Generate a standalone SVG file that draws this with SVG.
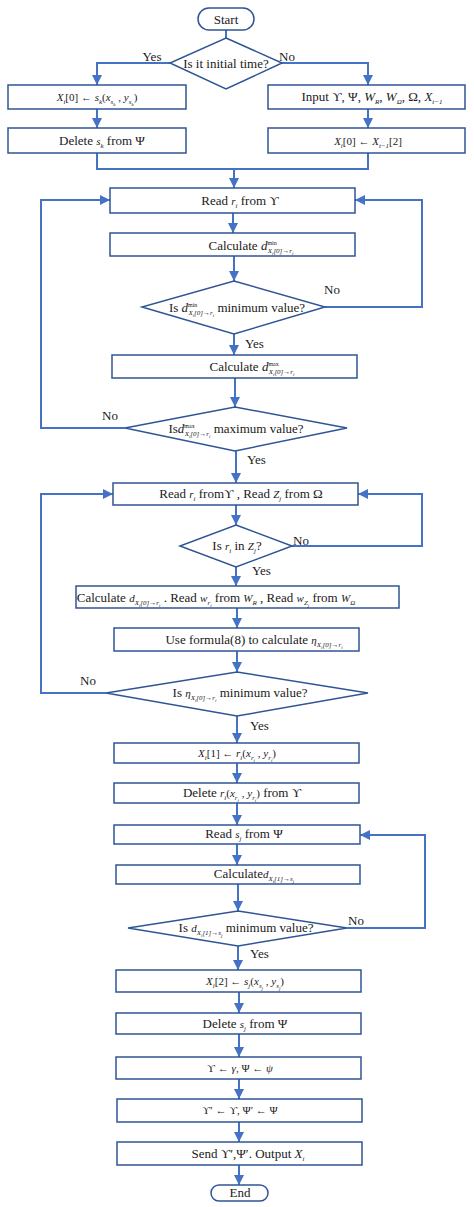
<svg xmlns="http://www.w3.org/2000/svg" width="474" height="1207" viewBox="0 0 474 1207">
<style>
.bx{fill:#fff;stroke:#2F5597;stroke-width:1.5}
.cn{fill:none;stroke:#4472C4;stroke-width:2}
.t{font-family:"Liberation Serif","Times New Roman",serif;font-size:13px;fill:#1a1a1a;text-anchor:middle}
.l{font-family:"Liberation Serif","Times New Roman",serif;font-size:13px;fill:#1a1a1a}
.f{font-size:11px}
.i{font-style:italic}
.s{font-size:7px;font-style:italic;baseline-shift:-3px}
.p{font-size:6px;baseline-shift:5px}
.ss{font-size:5px;baseline-shift:-1.5px}
</style>
<defs>
<marker id="ah" viewBox="0 0 10 10" refX="10" refY="5" markerWidth="11" markerHeight="10" markerUnits="userSpaceOnUse" orient="auto">
<path d="M0,0 L10,5 L0,10 z" fill="#4472C4"/>
</marker>
</defs>
<rect width="474" height="1207" fill="#fff"/>

<g id="connectors">
<path class="cn" d="M226,30 V38"/>
<path class="cn" d="M170,63 H97 V85" marker-end="url(#ah)"/>
<path class="cn" d="M282,63 H368 V85" marker-end="url(#ah)"/>
<path class="cn" d="M97,109 V128" marker-end="url(#ah)"/>
<path class="cn" d="M368,109 V128" marker-end="url(#ah)"/>
<path class="cn" d="M97,153 V169 H368 V153"/>
<path class="cn" d="M234,169 V188" marker-end="url(#ah)"/>
<path class="cn" d="M233,213 V233" marker-end="url(#ah)"/>
<path class="cn" d="M234,256 V281" marker-end="url(#ah)"/>
<path class="cn" d="M325,307 H422 V200 H355" marker-end="url(#ah)"/>
<path class="cn" d="M234,334 V355" marker-end="url(#ah)"/>
<path class="cn" d="M235,378 V407" marker-end="url(#ah)"/>
<path class="cn" d="M125,428 H41 V200 H110" marker-end="url(#ah)"/>
<path class="cn" d="M236,451 V483" marker-end="url(#ah)"/>
<path class="cn" d="M236,505 V525" marker-end="url(#ah)"/>
<path class="cn" d="M292,546 H422 V494 H358" marker-end="url(#ah)"/>
<path class="cn" d="M236,567 V586" marker-end="url(#ah)"/>
<path class="cn" d="M237,608 V628" marker-end="url(#ah)"/>
<path class="cn" d="M237,651 V672" marker-end="url(#ah)"/>
<path class="cn" d="M106,693 H41 V494 H113" marker-end="url(#ah)"/>
<path class="cn" d="M237,716 V743" marker-end="url(#ah)"/>
<path class="cn" d="M237,763 V783" marker-end="url(#ah)"/>
<path class="cn" d="M237,803 V825" marker-end="url(#ah)"/>
<path class="cn" d="M237,844 V865" marker-end="url(#ah)"/>
<path class="cn" d="M238,884 V911" marker-end="url(#ah)"/>
<path class="cn" d="M347,928 H425 V835 H360" marker-end="url(#ah)"/>
<path class="cn" d="M238,946 V970" marker-end="url(#ah)"/>
<path class="cn" d="M239,992 V1013" marker-end="url(#ah)"/>
<path class="cn" d="M239,1034 V1057" marker-end="url(#ah)"/>
<path class="cn" d="M239,1079 V1099" marker-end="url(#ah)"/>
<path class="cn" d="M239,1122 V1142" marker-end="url(#ah)"/>
<path class="cn" d="M239,1165 V1185" marker-end="url(#ah)"/>
</g>

<g id="labels">
<text class="t" x="152" y="61">Yes</text>
<text class="t" x="287" y="61">No</text>
<text class="t" x="332" y="294">No</text>
<text class="l" x="245" y="348">Yes</text>
<text class="t" x="110" y="420">No</text>
<text class="l" x="247" y="464">Yes</text>
<text class="l" x="293" y="545">No</text>
<text class="l" x="252" y="575">Yes</text>
<text class="l" x="80" y="685">No</text>
<text class="l" x="250" y="730">Yes</text>
<text class="l" x="348" y="925">No</text>
<text class="l" x="250" y="958">Yes</text>
</g>

<g id="start"><rect class="bx" x="198" y="8" width="56" height="22" rx="11"/><text class="t" x="226" y="24">Start</text></g>

<g id="d1"><polygon class="bx" points="226,38 282,63 226,89 170,63"/><text class="t" x="226" y="68">Is it initial time?</text></g>

<g id="b1"><rect class="bx" x="8" y="85" width="178" height="24"/>
<text class="t f" x="97" y="101"><tspan class="i">X</tspan><tspan class="s">i</tspan>[0] ← <tspan class="i">s</tspan><tspan class="s">k</tspan>(<tspan class="i">x</tspan><tspan class="s">s<tspan class="ss">k</tspan></tspan> , <tspan class="i">y</tspan><tspan class="s">s<tspan class="ss">k</tspan></tspan>)</text></g>

<g id="b2"><rect class="bx" x="8" y="128" width="178" height="25"/>
<text class="t" x="102" y="145">Delete <tspan class="i f">s</tspan><tspan class="s">k</tspan>  from Ψ</text></g>

<g id="b3"><rect class="bx" x="268" y="85" width="197" height="24"/>
<text class="t" x="372" y="101">Input  ϒ, Ψ, <tspan class="i">W</tspan><tspan class="s">R</tspan>, <tspan class="i">W</tspan><tspan class="s">Ω</tspan>, Ω, <tspan class="i">X</tspan><tspan class="s">t−1</tspan></text></g>

<g id="b4"><rect class="bx" x="268" y="128" width="197" height="25"/>
<text class="t f" x="368" y="145"><tspan class="i">X</tspan><tspan class="s">i</tspan>[0] ← <tspan class="i">X</tspan><tspan class="s">t−1</tspan>[2]</text></g>

<g id="b5"><rect class="bx" x="110" y="188" width="245" height="25"/>
<text class="t" x="240" y="205">Read <tspan class="i f">r</tspan><tspan class="s">i</tspan>  from  ϒ</text></g>

<g id="b6"><rect class="bx" x="110" y="233" width="245" height="23"/>
<text class="t" x="251" y="250">Calculate <tspan class="i">d</tspan><tspan class="p">min</tspan><tspan class="s" dx="-9">X<tspan class="ss">i</tspan>[0]→r<tspan class="ss">i</tspan></tspan></text></g>

<g id="d2"><polygon class="bx" points="234,281 325,307 234,334 142,307"/>
<text class="t" x="237" y="312">Is  <tspan class="i">d</tspan><tspan class="p">min</tspan><tspan class="s" dx="-9">X<tspan class="ss">i</tspan>[0]→r<tspan class="ss">i</tspan></tspan> minimum value?</text></g>

<g id="b7"><rect class="bx" x="112" y="355" width="245" height="23"/>
<text class="t" x="252" y="371">Calculate <tspan class="i">d</tspan><tspan class="p">max</tspan><tspan class="s" dx="-10">X<tspan class="ss">i</tspan>[0]→r<tspan class="ss">i</tspan></tspan></text></g>

<g id="d3"><polygon class="bx" points="235,407 347,428 235,451 125,428"/>
<text class="t" x="236" y="433">Is<tspan class="i">d</tspan><tspan class="p">max</tspan><tspan class="s" dx="-10">X<tspan class="ss">i</tspan>[0]→r<tspan class="ss">i</tspan></tspan> maximum value?</text></g>

<g id="b8"><rect class="bx" x="113" y="483" width="245" height="22"/>
<text class="t" x="241" y="498">Read <tspan class="i f">r</tspan><tspan class="s">i</tspan>  fromϒ  , Read <tspan class="i f">Z</tspan><tspan class="s">j</tspan>  from Ω</text></g>

<g id="d4"><polygon class="bx" points="236,525 292,546 236,567 180,546"/>
<text class="t" x="237" y="550">Is <tspan class="i f">r</tspan><tspan class="s">i</tspan>  in <tspan class="i f">Z</tspan><tspan class="s">j</tspan>?</text></g>

<g id="b9"><rect class="bx" x="76" y="586" width="323" height="22"/>
<text class="t" x="216" y="602">Calculate <tspan class="i f">d</tspan><tspan class="s">X<tspan class="ss">i</tspan>[0]→r<tspan class="ss">i</tspan></tspan> . Read  <tspan class="i f">w</tspan><tspan class="s">r<tspan class="ss">i</tspan></tspan>  from <tspan class="i f">W</tspan><tspan class="s">R</tspan> , Read <tspan class="i f">w</tspan><tspan class="s">Z<tspan class="ss">j</tspan></tspan>  from <tspan class="i f">W</tspan><tspan class="s">Ω</tspan></text></g>

<g id="b10"><rect class="bx" x="114" y="628" width="245" height="23"/>
<text class="t" x="254" y="644">Use formula(8) to calculate  <tspan class="i f">η</tspan><tspan class="s">X<tspan class="ss">i</tspan>[0]→r<tspan class="ss">i</tspan></tspan></text></g>

<g id="d5"><polygon class="bx" points="237,672 368,693 237,716 106,693"/>
<text class="t" x="240" y="697">Is  <tspan class="i f">η</tspan><tspan class="s">X<tspan class="ss">i</tspan>[0]→r<tspan class="ss">i</tspan></tspan>   minimum value?</text></g>

<g id="b11"><rect class="bx" x="114" y="743" width="245" height="20"/>
<text class="t f" x="237" y="757"><tspan class="i">X</tspan><tspan class="s">i</tspan>[1] ← <tspan class="i">r</tspan><tspan class="s">i</tspan>(<tspan class="i">x</tspan><tspan class="s">r<tspan class="ss">i</tspan></tspan> , <tspan class="i">y</tspan><tspan class="s">r<tspan class="ss">i</tspan></tspan>)</text></g>

<g id="b12"><rect class="bx" x="114" y="783" width="245" height="20"/>
<text class="t" x="242" y="797">Delete <tspan class="i f">r</tspan><tspan class="s">i</tspan><tspan class="f">(</tspan><tspan class="i f">x</tspan><tspan class="s">r<tspan class="ss">i</tspan></tspan><tspan class="f"> , </tspan><tspan class="i f">y</tspan><tspan class="s">r<tspan class="ss">i</tspan></tspan><tspan class="f">)</tspan>  from ϒ</text></g>

<g id="b13"><rect class="bx" x="114" y="825" width="246" height="19"/>
<text class="t" x="244" y="838">Read <tspan class="i f">s</tspan><tspan class="s">j</tspan>  from  Ψ</text></g>

<g id="b14"><rect class="bx" x="116" y="865" width="244" height="19"/>
<text class="t" x="254" y="878">Calculate<tspan class="i f">d</tspan><tspan class="s">X<tspan class="ss">i</tspan>[1]→s<tspan class="ss">j</tspan></tspan></text></g>

<g id="d6"><polygon class="bx" points="238,911 347,928 238,946 128,928"/>
<text class="t" x="246" y="932">Is  <tspan class="i f">d</tspan><tspan class="s">X<tspan class="ss">i</tspan>[1]→s<tspan class="ss">j</tspan></tspan> minimum value?</text></g>

<g id="b15"><rect class="bx" x="116" y="970" width="245" height="22"/>
<text class="t f" x="245" y="985"><tspan class="i">X</tspan><tspan class="s">i</tspan>[2] ← <tspan class="i">s</tspan><tspan class="s">j</tspan>(<tspan class="i">x</tspan><tspan class="s">s<tspan class="ss">j</tspan></tspan> , <tspan class="i">y</tspan><tspan class="s">s<tspan class="ss">j</tspan></tspan>)</text></g>

<g id="b16"><rect class="bx" x="116" y="1013" width="245" height="21"/>
<text class="t" x="245" y="1028">Delete  <tspan class="i f">s</tspan><tspan class="s">j</tspan>  from Ψ</text></g>

<g id="b17"><rect class="bx" x="116" y="1057" width="245" height="22"/>
<text class="t f" x="240" y="1072">ϒ ← <tspan class="i">γ</tspan>, Ψ ← <tspan class="i">ψ</tspan></text></g>

<g id="b18"><rect class="bx" x="117" y="1099" width="245" height="23"/>
<text class="t f" x="240" y="1114">ϒ′ ← ϒ, Ψ′ ← Ψ</text></g>

<g id="b19"><rect class="bx" x="117" y="1142" width="245" height="23"/>
<text class="t" x="248" y="1158">Send ϒ′,Ψ′. Output <tspan class="i">X</tspan><tspan class="s">i</tspan></text></g>

<g id="end"><rect class="bx" x="211" y="1185" width="57" height="16" rx="8"/><text class="t" x="240" y="1197">End</text></g>
</svg>
